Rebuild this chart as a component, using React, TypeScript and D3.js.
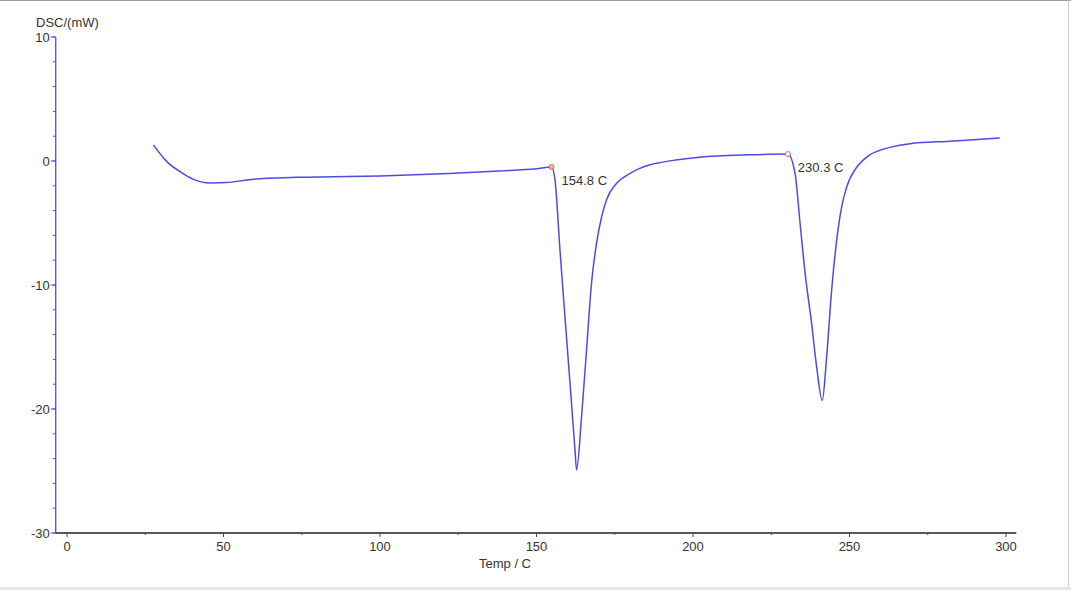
import * as d3 from "d3";

const temps = [
  27.6, 31.9, 36.1, 40.4, 45.7, 51, 57.4, 63.8, 73.4, 85, 100, 122, 138, 150,
  154.8, 155.9, 157.5, 159.1, 160.7, 162.3, 162.8, 164.4, 166, 167.6, 169.2,
  170.8, 172.4, 175.6, 179.9, 182.8, 186.3, 189.5, 202, 218, 230.3, 232.6,
  234.2, 235.8, 237.9, 239.5, 241.3, 242.7, 244.3, 245.9, 247.5, 249.1, 252.3,
  254.3, 256.5, 259.5, 262.9, 269.3, 282, 298,
];
const dsc = [
  1.3, -0.05, -0.86, -1.48, -1.77, -1.74, -1.53, -1.4, -1.32, -1.28, -1.2,
  -1.0, -0.8, -0.62, -0.48, -1.5, -7.2, -12.6, -17.9, -23.3, -24.9, -20.6,
  -15.2, -9.8, -6.6, -4.5, -3.1, -1.8, -1.0, -0.62, -0.3, -0.13, 0.3, 0.5,
  0.56, -1.0, -5.0, -9.0, -13.1, -16.6, -19.3, -15.8, -10.4, -6.4, -3.7, -2.1,
  -0.5, 0.05, 0.5, 0.85, 1.1, 1.4, 1.6, 1.85,
];

const onsetTemps = [154.8, 230.3];
const onsetValues = [-0.48, 0.56];
const onsetLabels = ["154.8 C", "230.3 C"];

const xTicks = [0, 50, 100, 150, 200, 250, 300];
const xMinor = [25, 75, 125, 175, 225, 275];
const yTicks = [10, 0, -10, -20, -30];
const yMinor = d3.range(-30, 10.01, 2);

const W = 1071;
const H = 590;
const font = "'Liberation Sans', Arial, sans-serif";

export default function App() {
  const x = d3.scaleLinear().domain([0, 300]).range([67, 1006]);
  const y = d3.scaleLinear().domain([-30, 10]).range([533, 37]);

  const pts = temps.map((t, i) => ({ t, v: dsc[i] }));
  const line = d3
    .line<(typeof pts)[number]>()
    .curve(d3.curveMonotoneX)
    .x((d) => x(d.t))
    .y((d) => y(d.v));

  const axisY = x(-3.6);
  const blue = "#4b4be6";

  return (
    <div style={{ position: "fixed", left: 0, top: 0 }}>
      <svg width={W} height={H} fontFamily={font}>
        <rect width={W} height={H} fill="#fff" />
        {/* frame */}
        <line x1={0} x2={W} y1={0.5} y2={0.5} stroke="#9a9a9a" />
        <line x1={1068.5} x2={1068.5} y1={0} y2={587} stroke="#c8c8c8" />
        <rect x={0} y={587} width={W} height={3} fill="#e6e6e6" />

        {/* y axis */}
        <line x1={axisY} x2={axisY} y1={y(10)} y2={y(-30)} stroke={blue} strokeWidth={1.3} />
        {yMinor.map((v) => (
          <line key={"ym" + v} x1={axisY - 3} x2={axisY} y1={y(v)} y2={y(v)} stroke={blue} />
        ))}
        {yTicks.map((v) => (
          <g key={"y" + v}>
            <line x1={axisY - 5} x2={axisY} y1={y(v)} y2={y(v)} stroke={blue} />
            <text x={axisY - 6} y={y(v)} dy="0.35em" textAnchor="end" fontSize={13} fill="#333">
              {v}
            </text>
          </g>
        ))}
        <text x={36} y={27} fontSize={13} fill="#333">
          DSC/(mW)
        </text>

        {/* x axis */}
        <line x1={axisY} x2={x(303.3)} y1={y(-30)} y2={y(-30)} stroke="#222" strokeWidth={1.3} />
        {xMinor.map((t) => (
          <line key={"xm" + t} x1={x(t)} x2={x(t)} y1={y(-30)} y2={y(-30) + 2} stroke="#444" />
        ))}
        {xTicks.map((t) => (
          <g key={"x" + t}>
            <line x1={x(t)} x2={x(t)} y1={y(-30)} y2={y(-30) + 4} stroke="#444" />
            <text x={x(t)} y={551} textAnchor="middle" fontSize={13} fill="#333">
              {t}
            </text>
          </g>
        ))}
        <text x={505} y={568} textAnchor="middle" fontSize={13} fill="#333">
          Temp / C
        </text>

        {/* curve */}
        <path d={line(pts) ?? ""} fill="none" stroke={blue} strokeWidth={1.5} />

        {/* onset markers */}
        {onsetTemps.map((t, i) => (
          <g key={"o" + t}>
            <circle
              cx={x(t)}
              cy={y(onsetValues[i])}
              r={2.5}
              fill={i === 0 ? "#f2b59a" : "#fff"}
              stroke="#e06060"
              strokeWidth={1}
            />
            <text
              x={x(t) + 10}
              y={y(onsetValues[i]) + 18}
              fontSize={13}
              fill="#333"
            >
              {onsetLabels[i]}
            </text>
          </g>
        ))}
      </svg>
    </div>
  );
}
